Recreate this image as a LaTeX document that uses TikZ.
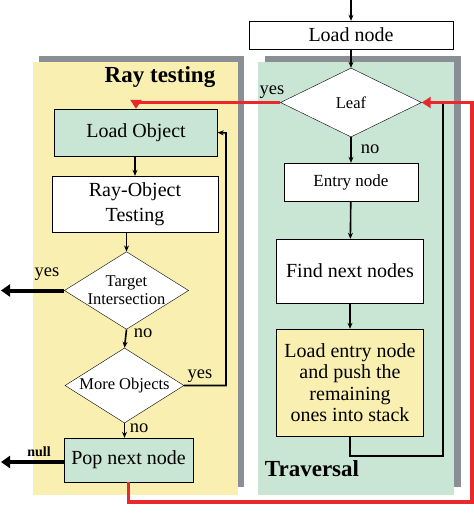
\documentclass[tikz,border=0pt]{standalone}
\usepackage{fontspec}
\setmainfont{Liberation Serif}
\usepackage{tikz}
\usetikzlibrary{shapes.geometric, arrows.meta}
\definecolor{panelyellow}{HTML}{F8EFB0}
\definecolor{panelgreen}{HTML}{C9E6D5}
\definecolor{shadowgray}{HTML}{8A8F96}
\definecolor{loopred}{HTML}{E8282B}
\tikzstyle{process} = [rectangle, draw=black, fill=white, text centered, inner sep=0pt, font=\fontsize{20}{21.5}\selectfont]
\tikzstyle{decision} = [diamond, draw=black, fill=white, text centered, inner sep=0pt, font=\fontsize{16.5}{18}\selectfont]
\tikzstyle{flow} = [line width=1.6pt, -{Stealth[length=6pt,width=5pt]}]
\tikzstyle{backflow} = [line width=1.6pt]
\tikzstyle{redflow} = [line width=3.5pt, draw=loopred, -{Triangle[length=9pt,width=11pt]}]
\tikzstyle{exitflow} = [line width=4pt, -{Triangle[length=9pt,width=12pt]}]
\tikzstyle{textlabel} = [font=\fontsize{18.5}{20}\selectfont]

\begin{document}
\begin{tikzpicture}[x=1pt, y=-1pt]
        \useasboundingbox (0,0) rectangle (474,525);
        % panels with shadows
        \fill[shadowgray] (39,56) rectangle (244,487);
        \fill[panelyellow] (33,62) rectangle (238,495);
        \fill[shadowgray] (265,56) rectangle (461,487);
        \fill[panelgreen] (258,62) rectangle (454,495);
        \node (raytitle) at (160,77) {\fontsize{23}{24}\selectfont\bfseries Ray testing};
        \node (travtitle) at (312,469) {\fontsize{23}{24}\selectfont\bfseries Traversal};
        % traversal side
        \coordinate (start) at (351,0);
        \node (loadnode) [process, minimum width=204pt, minimum height=28pt] at (351,35) {Load node};
        \node (leaf) [decision, minimum width=141pt, minimum height=69pt, aspect=2] at (351,102.5) {Leaf};
        \node (entry) [process, minimum width=134pt, minimum height=38pt, font=\fontsize{17}{18}\selectfont] at (351,182) {Entry node};
        \node (find) [process, minimum width=147pt, minimum height=64pt] at (350,271) {Find next nodes};
        \node (loadentry) [process, fill=panelyellow, minimum width=147pt, minimum height=107pt, align=center] at (350,382.5) {Load entry node\\and push the\\remaining\\ones into stack};
        \draw [flow] (start) -- (loadnode);
        \draw [flow] (loadnode) -- (leaf);
        \draw [flow] (leaf) -- (entry);
        \draw [flow] (entry) -- (find);
        \draw [flow] (find) -- (loadentry);
        \node [textlabel] at (272,92) {yes};
        \node [textlabel] at (370,149) {no};
        % ray testing side
        \node (loadobj) [process, fill=panelgreen, minimum width=163pt, minimum height=47pt] at (136,132.5) {Load Object};
        \node (rayobj) [process, minimum width=166pt, minimum height=56pt, align=center, font=\fontsize{20}{25}\selectfont] at (135,204) {Ray-Object\\Testing};
        \node (target) [decision, minimum width=119pt, minimum height=75pt, aspect=1.6, align=center] at (126.5,290.5) {Target\\Intersection};
        \node (more) [decision, minimum width=119pt, minimum height=75pt, aspect=1.6] at (124.5,385.5) {More Objects};
        \node (pop) [process, fill=panelgreen, minimum width=129pt, minimum height=44pt] at (128.5,460) {Pop next node};
        \draw [flow] (loadobj.south -| rayobj.north) -- (rayobj.north);
        \draw [flow] (rayobj.south -| target.north) -- (target.north);
        \draw [flow] (target.south) -- (more.north);
        \draw [flow] (more.south) -- (more.south |- pop.north);
        \node [textlabel] at (47,274) {yes};
        \node [textlabel] at (143,333) {no};
        \node [textlabel] at (200,376) {yes};
        \node [textlabel] at (139,428) {no};
        \node at (39,452) {\fontsize{14}{15}\selectfont\bfseries null};
        % loops back
        \coordinate (rayback) at (226,133);
        \draw [backflow, -{Stealth[length=6pt,width=5pt]}] (more.east) -| (rayback) -- (loadobj.east);
        \coordinate (travback) at (443,456);
        \draw [backflow] (loadentry.south) |- (travback) -- (travback |- leaf.east);
        \coordinate (redcorner) at (472,502);
        \draw [redflow] (pop.south) |- (redcorner) |- (leaf.east);
        \draw [redflow] (leaf.west) -| (loadobj.north);
        % exits
        \coordinate (yesout) at (1,290.5);
        \coordinate (nullout) at (1,462);
        \draw [exitflow] (target.west) -- (yesout);
        \draw [exitflow] (pop.west |- nullout) -- (nullout);
\end{tikzpicture}
\end{document}
